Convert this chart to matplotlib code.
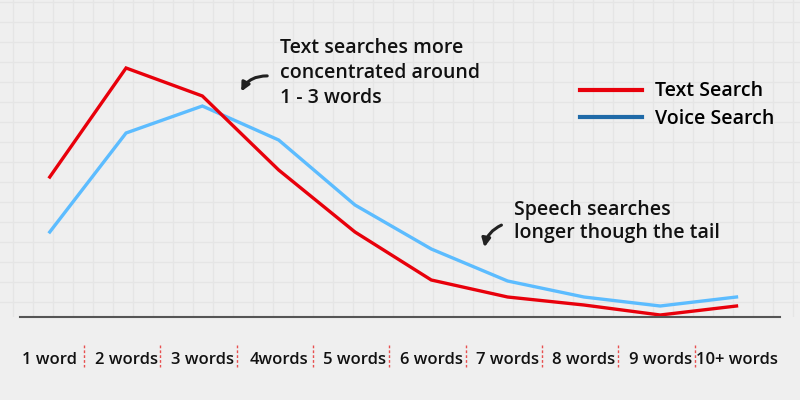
import matplotlib.pyplot as plt
from matplotlib.lines import Line2D

categories = ["1 word", "2 words", "3 words", "4words", "5 words",
              "6 words", "7 words", "8 words", "9 words", "10+ words"]
text_search = [14.0, 24.9, 22.1, 14.7, 8.5, 3.7, 2.0, 1.2, 0.2, 1.1]
voice_search = [8.5, 18.4, 21.1, 17.7, 11.2, 6.8, 3.6, 2.0, 1.1, 2.0]

BG = "#efefef"
RED = "#e8000b"
LIGHT_BLUE = "#5cbcff"
DARK_BLUE = "#1f6aa8"

plt.rcParams['font.family'] = ['Open Sans', 'DejaVu Sans']
W = "semibold"

fig = plt.figure(figsize=(8, 4), dpi=100)
fig.patch.set_facecolor(BG)

def fpos(x, y):
    # top-left pixel coords -> figure fraction
    return x / 800, 1 - y / 400

# background grid panel
bg = fig.add_axes([0, 83 / 400, 1, 317 / 400])
bg.set_xlim(0, 800)
bg.set_ylim(317, 0)
bg.set_facecolor(BG)
for gx in range(13, 800, 20):
    bg.axvline(gx, color="#e5e5e5", lw=0.9, zorder=0)
for gy in range(2, 317, 20):
    bg.axhline(gy, color="#e5e5e5", lw=0.9, zorder=0)
bg.axis("off")

ax = fig.add_axes([20 / 800, 83 / 400, 760 / 800, 317 / 400])
ax.patch.set_alpha(0)
x = list(range(len(categories)))
ax.plot(x, voice_search, color=LIGHT_BLUE, lw=2.4, solid_joinstyle="miter")
ax.plot(x, text_search, color=RED, lw=2.4, solid_joinstyle="miter")
ax.set_xlim(-0.39, 9.57)
ax.set_ylim(0, 31.7)
for s in ["top", "right", "left"]:
    ax.spines[s].set_visible(False)
ax.spines["bottom"].set_color("#555555")
ax.spines["bottom"].set_linewidth(1.5)
ax.set_yticks([])
ax.set_xticks(x)
ax.set_xticklabels(categories, fontsize=12, fontweight=W, color="#111111")
ax.tick_params(axis="x", length=0, pad=25)

# red dashed separators between labels
for i in range(len(categories) - 1):
    xm = i + 0.45
    ax.plot([xm, xm], [-0.087, -0.157], transform=ax.get_xaxis_transform(),
            color="#e85050", lw=1.0, ls=(0, (2, 1.5)), clip_on=False)

# annotations
fig.text(*fpos(280, 38), "Text searches more\nconcentrated around\n1 - 3 words",
         fontsize=14, fontweight=W, color="#111111", va="top",
         linespacing=1.33)
fig.text(*fpos(514, 200), "Speech searches\nlonger though the tail",
         fontsize=14, fontweight=W, color="#111111", va="top",
         linespacing=1.2)
ax.annotate("", xy=fpos(240, 94), xycoords="figure fraction",
            xytext=fpos(270, 76), textcoords="figure fraction",
            arrowprops=dict(arrowstyle="-|>,head_length=0.5,head_width=0.25",
                            color="#222222", lw=2.2,
                            connectionstyle="arc3,rad=0.35"))
ax.annotate("", xy=fpos(484, 250), xycoords="figure fraction",
            xytext=fpos(504, 224), textcoords="figure fraction",
            arrowprops=dict(arrowstyle="-|>,head_length=0.5,head_width=0.25",
                            color="#222222", lw=2.2,
                            connectionstyle="arc3,rad=0.3"))

# legend
handles = [Line2D([], [], color=RED, lw=3),
           Line2D([], [], color=DARK_BLUE, lw=3)]
fig.legend(handles, ["Text Search", "Voice Search"],
           loc="upper left", bbox_to_anchor=fpos(562, 64), frameon=False,
           handlelength=3.2, handletextpad=0.7,
           labelspacing=0.4, prop={"weight": W, "size": 14})

fig.savefig("out.png", dpi=100, facecolor=BG)
